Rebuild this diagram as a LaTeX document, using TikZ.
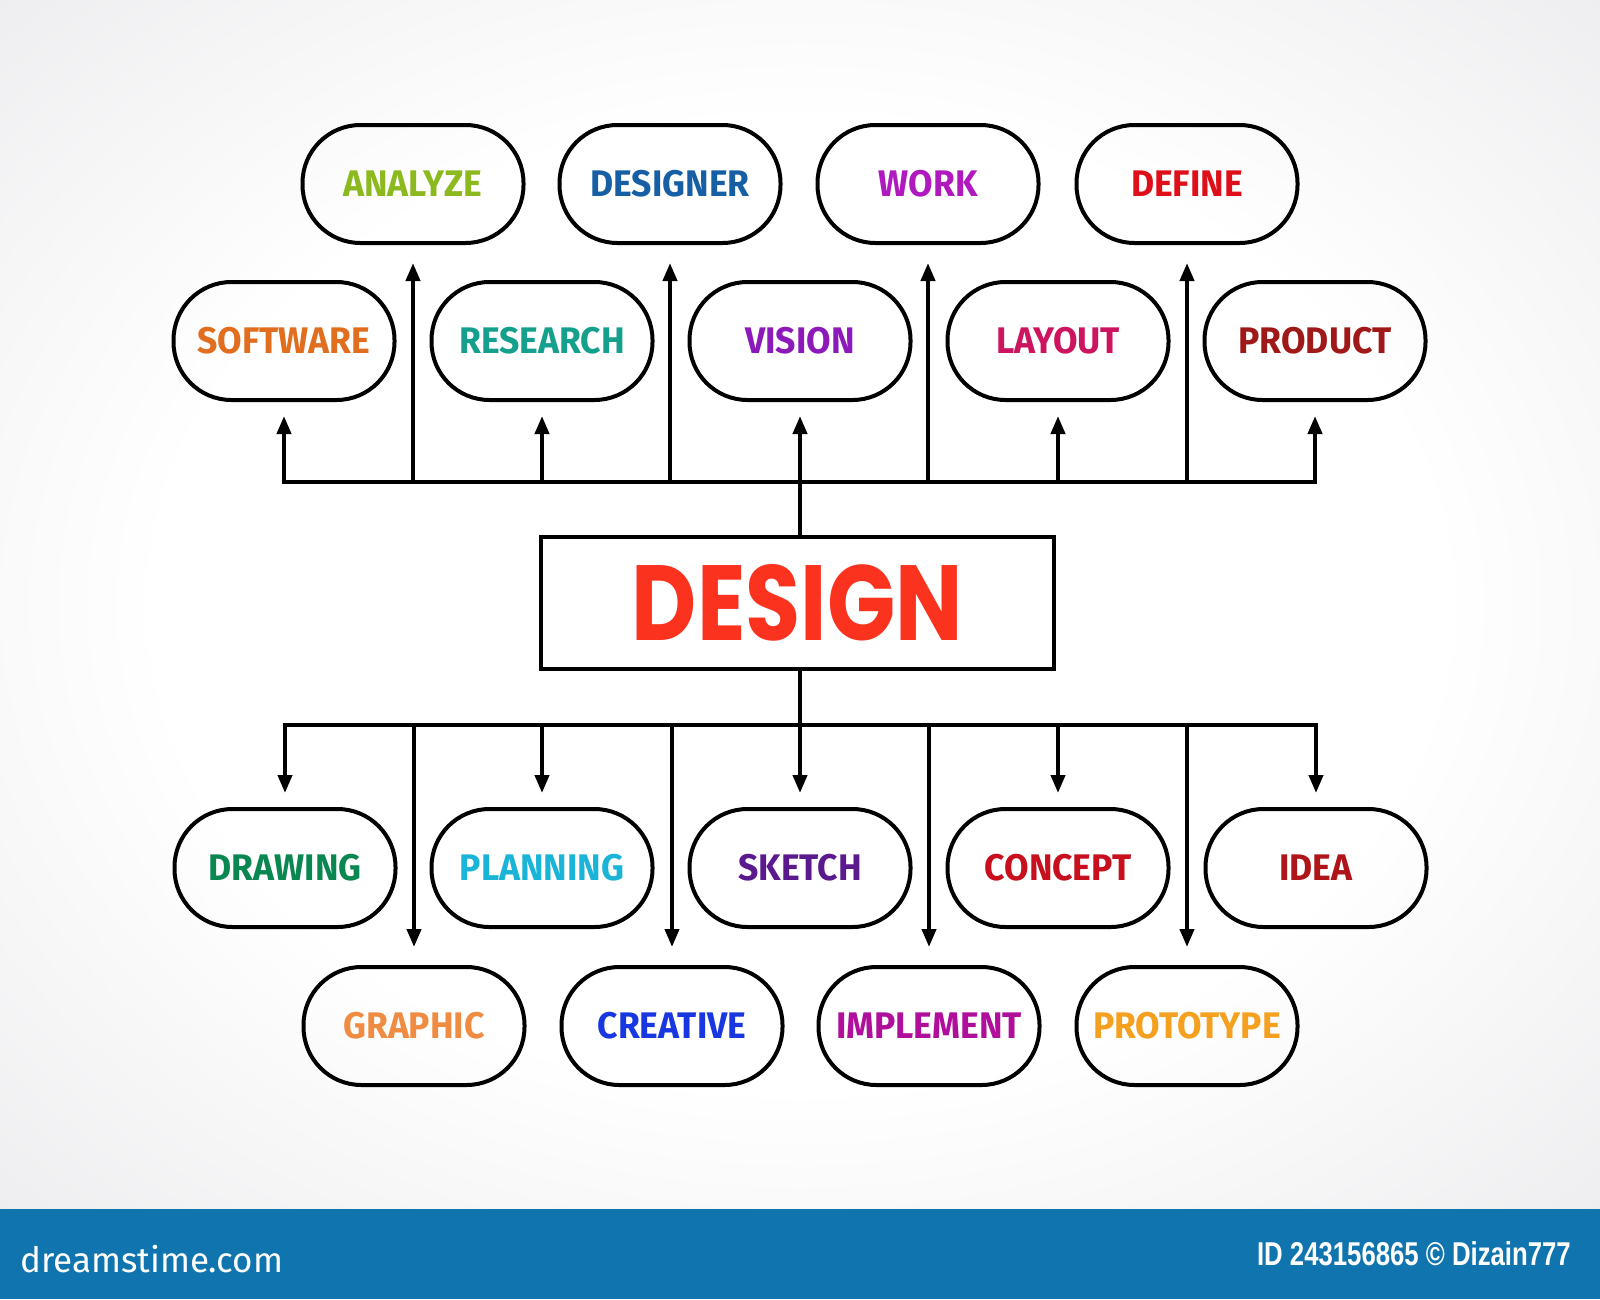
\documentclass[tikz,border=0pt]{standalone}
\usepackage{fontspec}
\setmainfont{Fira Sans}
\newfontfamily\lblfont{Fira Sans}[FakeStretch=0.96]
\newfontfamily\designfont{Poppins}
\newfontfamily\footfont{Liberation Sans}
\usetikzlibrary{arrows.meta}

\definecolor{bgedge}{RGB}{222,222,226}
\definecolor{barblue}{RGB}{16,117,175}
\definecolor{cAnalyze}{RGB}{140,185,30}
\definecolor{cDesigner}{RGB}{22,95,165}
\definecolor{cWork}{RGB}{175,25,190}
\definecolor{cDefine}{RGB}{222,15,25}
\definecolor{cSoftware}{RGB}{225,110,30}
\definecolor{cResearch}{RGB}{20,160,140}
\definecolor{cVision}{RGB}{140,25,185}
\definecolor{cLayout}{RGB}{205,20,95}
\definecolor{cProduct}{RGB}{160,25,25}
\definecolor{cDrawing}{RGB}{10,135,80}
\definecolor{cPlanning}{RGB}{25,180,215}
\definecolor{cSketch}{RGB}{90,25,140}
\definecolor{cConcept}{RGB}{200,15,30}
\definecolor{cIdea}{RGB}{175,20,25}
\definecolor{cGraphic}{RGB}{240,140,65}
\definecolor{cCreative}{RGB}{25,55,225}
\definecolor{cImplement}{RGB}{175,15,155}
\definecolor{cPrototype}{RGB}{245,160,30}
\definecolor{cDesign}{RGB}{250,50,30}

\pgfdeclareradialshading{bgshade}{\pgfpoint{0bp}{0bp}}{color(0bp)=(white); color(20bp)=(white); color(50bp)=(bgedge)}

\tikzset{
  oval/.style={draw=black, line width=4pt, rounded corners=58pt,
    minimum width=221pt, minimum height=118pt, inner sep=0pt,
    font=\lblfont\bfseries\fontsize{37}{40}\selectfont},
  bus/.style={line width=4pt, line cap=rect},
  arrnear/.style={line width=4pt, -{Triangle[length=18pt,width=14pt]}, shorten >=14pt},
  arrfar/.style={line width=4pt, -{Triangle[length=18pt,width=14pt]}, shorten >=18pt},
}

\begin{document}
\begin{tikzpicture}[x=1pt,y=-1pt]
\useasboundingbox (0,0) rectangle (1600,1299);
\shade[shading=bgshade] (0,0) rectangle (1600,1209);
\fill[barblue] (0,1209) rectangle (1600,1299);

% top rows
\node[oval, text=cAnalyze]  (analyze)  at (413,184) {ANALYZE};
\node[oval, text=cDesigner] (designer) at (670,184) {DESIGNER};
\node[oval, text=cWork]     (work)     at (928,184) {WORK};
\node[oval, text=cDefine]   (define)   at (1187,184) {DEFINE};

\node[oval, text=cSoftware] (software) at (284,341) {SOFTWARE};
\node[oval, text=cResearch] (research) at (542,341) {RESEARCH};
\node[oval, text=cVision]   (vision)   at (800,341) {VISION};
\node[oval, text=cLayout]   (layout)   at (1058,341) {LAYOUT};
\node[oval, text=cProduct]  (product)  at (1315,341) {PRODUCT};

% bottom rows
\node[oval, text=cDrawing]  (drawing)  at (285,868) {DRAWING};
\node[oval, text=cPlanning] (planning) at (542,868) {PLANNING};
\node[oval, text=cSketch]   (sketch)   at (800,868) {SKETCH};
\node[oval, text=cConcept]  (concept)  at (1058,868) {CONCEPT};
\node[oval, text=cIdea]     (idea)     at (1316,868) {IDEA};

\node[oval, text=cGraphic]   (graphic)   at (414,1026) {GRAPHIC};
\node[oval, text=cCreative]  (creative)  at (672,1026) {CREATIVE};
\node[oval, text=cImplement] (implement) at (929,1026) {IMPLEMENT};
\node[oval, text=cPrototype] (prototype) at (1187,1026) {PROTOTYPE};

% center box
\node[draw=black, line width=4pt, minimum width=513pt, minimum height=132pt, inner sep=0pt,
      text=cDesign] (design) at (797.5,603)
      {\resizebox{331pt}{76pt}{\designfont\bfseries DESIGN}};

\coordinate (topbus) at (800,482);
\coordinate (botbus) at (800,725);

% top connectors
\draw[bus] (topbus) -- (topbus |- design.north);
\draw[bus] (software.south |- topbus) -- (product.south |- topbus);
\foreach \n in {software,research,vision,layout,product}
  \draw[arrnear] (\n.south |- topbus) -- (\n.south);
\foreach \n in {analyze,designer,work,define}
  \draw[arrfar] (\n.south |- topbus) -- (\n.south);

% bottom connectors
\draw[bus] (botbus) -- (botbus |- design.south);
\draw[bus] (drawing.north |- botbus) -- (idea.north |- botbus);
\foreach \n in {drawing,planning,sketch,concept,idea}
  \draw[arrnear] (\n.north |- botbus) -- (\n.north);
\foreach \n in {graphic,creative,implement,prototype}
  \draw[arrfar] (\n.north |- botbus) -- (\n.north);

% footer
\node[anchor=base west, text=white, inner sep=0pt] (brand) at (20,1272)
  {\resizebox{263pt}{!}{\fontsize{36}{40}\selectfont dreamstime.com}};
\node[anchor=base east, text=white, inner sep=0pt] (imgid) at (1571,1265)
  {\scalebox{0.78}[1]{\footfont\bfseries\fontsize{33}{36}\selectfont ID 243156865 © Dizain777}};
\end{tikzpicture}
\end{document}
